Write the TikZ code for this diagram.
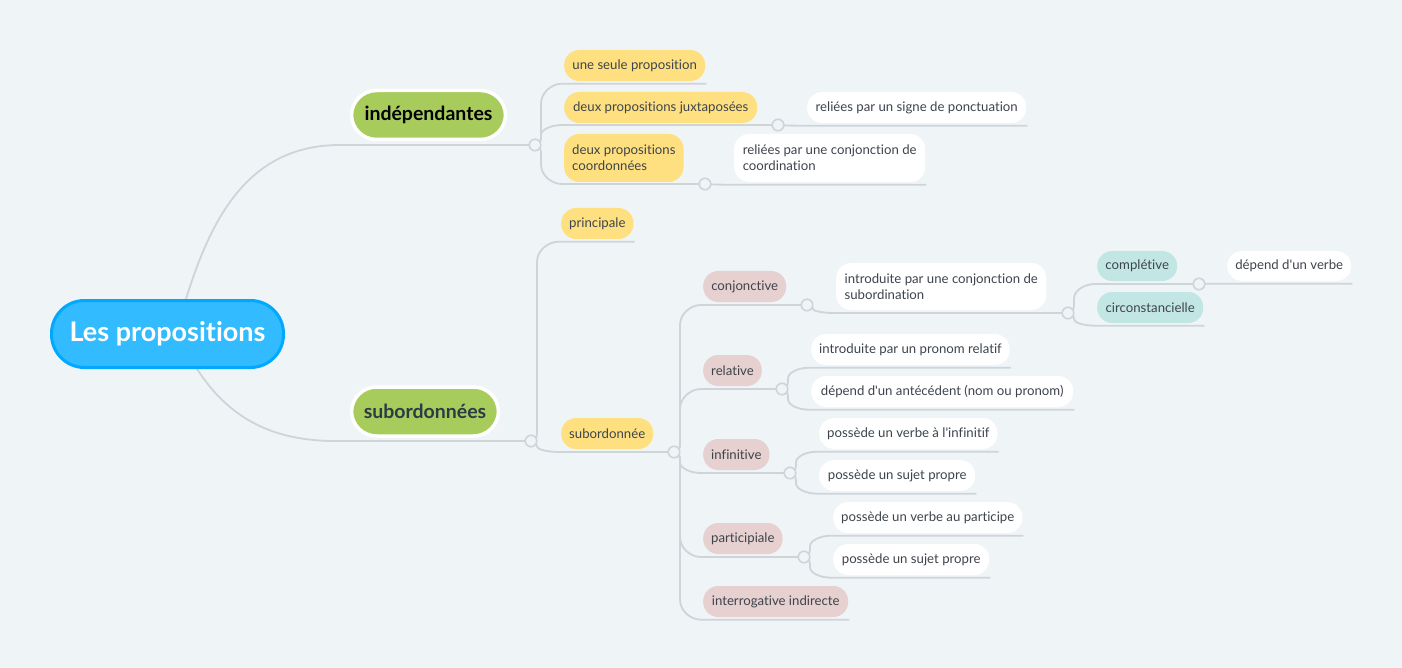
\documentclass[tikz,border=0pt]{standalone}
\usepackage{fontspec}
\setmainfont{Lato}[Ligatures={NoCommon}]
\usetikzlibrary{calc,backgrounds}
\definecolor{bg}{RGB}{239,244,247}
\definecolor{rootfill}{RGB}{51,187,255}
\definecolor{rootline}{RGB}{0,168,255}
\definecolor{grn}{RGB}{168,204,92}
\definecolor{yel}{RGB}{255,224,128}
\definecolor{pnk}{RGB}{230,208,208}
\definecolor{tea}{RGB}{194,230,228}
\definecolor{lne}{RGB}{206,212,216}
\definecolor{txt}{RGB}{62,68,76}
\definecolor{subtxt}{RGB}{45,58,70}
\newcommand\apo{\textquotesingle}
\tikzset{
  conn/.style={draw=lne, line width=1.8pt},
  mk/.style={circle, draw=lne, fill=bg, line width=1.6pt, minimum size=11.5pt, inner sep=0pt},
  leaf/.style={rounded corners=15pt, inner xsep=8pt, inner ysep=0pt, minimum height=31pt,
    font=\fontsize{13.2}{16}\selectfont, text=txt, anchor=west, align=left},
  yelbox/.style={leaf, fill=yel},
  whitebox/.style={leaf, fill=white},
  pinkbox/.style={leaf, fill=pnk},
  tealbox/.style={leaf, fill=tea},
  branchbox/.style={rounded corners=25pt, fill=grn, draw=white, line width=3.5pt,
    font=\fontsize{19.5}{22}\bfseries, inner sep=0pt, minimum height=49pt},
  rootbox/.style={rounded corners=33pt, fill=rootfill, draw=rootline, line width=3pt,
    font=\fontsize{27}{30}\bfseries, text=white, inner sep=0pt, minimum height=67pt, minimum width=232pt}
}
\newcommand\lnk[3]{%
  \draw[conn] let \p1=(#1.center), \p2=(#3), \p3=(#2.south west),
    \n1={\y2-\y1}, \n2={abs(\n1)}, \n3={(\n1>0)?1:-1},
    \n4={min(\n2/2,8pt)}, \n5={min(\n2/2,20pt)} in
    (\p1) .. controls ({\x1+4pt},\y1) and ({\x1+6pt},{\y1+(\n3)*0.45*\n4}) ..
    ({\x1+6pt},{\y1+(\n3)*\n4}) -- ({\x1+6pt},{\y2-(\n3)*\n5})
    .. controls ({\x1+6pt},{\y2-(\n3)*0.45*\n5}) and ({\x1+6pt+0.45*(\x3-\x1-6pt)},\y2) ..
    ({\x3-2pt},\y2) -- (\p2);}
\begin{document}
\begin{tikzpicture}[x=1pt,y=-1pt]
\useasboundingbox (0,0) rectangle (1402,668);
% root and branches
\node[rootbox] (root) at (167.5,334) {Les propositions};
\node[branchbox, minimum width=154pt, text=black] (ind) at (428.5,115) {indépendantes};
\node[branchbox, minimum width=147pt, text=subtxt] (sub) at (425,411.5) {subordonnées};
% yellow
\node[yelbox, minimum width=141pt] (n1) at (564,65.5) {une seule proposition};
\node[yelbox, minimum width=193pt] (n2) at (564,107.5) {deux propositions juxtaposées};
\node[yelbox, minimum width=119pt, minimum height=48pt] (n3) at (564,158) {deux propositions\\coordonnées};
\node[yelbox, minimum width=72pt] (n4) at (561,223.5) {principale};
\node[yelbox, minimum width=92pt] (n5) at (561,433.5) {subordonnée};
% white
\node[whitebox, minimum width=219pt] (w1) at (807,107.5) {reliées par un signe de ponctuation};
\node[whitebox, minimum width=191pt, minimum height=48pt] (w2) at (734,158) {reliées par une conjonction de\\coordination};
\node[whitebox, minimum width=210pt, minimum height=47pt] (w3) at (836,286.5) {introduite par une conjonction de\\subordination};
\node[whitebox, minimum width=124pt, minimum height=30pt] (w4) at (1227,266) {dépend d\apo un verbe};
\node[whitebox, minimum width=197pt] (w5) at (811,349.5) {introduite par un pronom relatif};
\node[whitebox, minimum width=262pt] (w6) at (811,391.5) {dépend d\apo un antécédent (nom ou pronom)};
\node[whitebox, minimum width=178pt] (w7) at (819,433.5) {possède un verbe à l\apo infinitif};
\node[whitebox, minimum width=156pt] (w8) at (819,475.5) {possède un sujet propre};
\node[whitebox, minimum width=189pt] (w9) at (833,517.5) {possède un verbe au participe};
\node[whitebox, minimum width=156pt] (w10) at (833,559.5) {possède un sujet propre};
% pink
\node[pinkbox, minimum width=83pt] (p1) at (703,286.5) {conjonctive};
\node[pinkbox, minimum width=57pt] (p2) at (703,370.5) {relative};
\node[pinkbox, minimum width=65pt] (p3) at (703,454.5) {infinitive};
\node[pinkbox, minimum width=79pt] (p4) at (703,538.5) {participiale};
\node[pinkbox, minimum width=145pt] (p5) at (703,601.5) {interrogative indirecte};
% teal
\node[tealbox, minimum width=80pt, minimum height=30pt] (t1) at (1097,266) {complétive};
\node[tealbox, minimum width=106pt] (t2) at (1097,307.5) {circonstancielle};
% markers
\node[mk] (mi) at (535,145) {};
\node[mk] (ms) at (531,441) {};
\node[mk] (mj) at (778,125) {};
\node[mk] (mc) at (705,184) {};
\node[mk] (msub) at (674,452) {};
\node[mk] (mconj) at (807,305) {};
\node[mk] (mintro) at (1068,313) {};
\node[mk] (mcomp) at (1199,284) {};
\node[mk] (mrel) at (782,389) {};
\node[mk] (minf) at (790,473) {};
\node[mk] (mpart) at (804,557) {};
% underline ends of leaves
\foreach \n in {n1,n4,w1,w2,w4,w5,w6,w7,w8,w9,w10,p5,t2}{
  \coordinate (u-\n) at ($(\n.south east)+(1,2.5)$);
}
\begin{pgfonlayer}{background}
\fill[bg] (0,0) rectangle (1402,668);
\draw[conn] ($(root.north)+(18.5,0)$) .. controls (212,215) and (250,145) .. (340,145) -- (mi.center);
\draw[conn] ($(root.south)+(29.5,0)$) .. controls (225,412) and (265,441) .. (335,441) -- (ms.center);
\lnk{mi}{n1}{u-n1}
\lnk{mi}{n2}{mj.center}
\lnk{mi}{n3}{mc.center}
\lnk{mj}{w1}{u-w1}
\lnk{mc}{w2}{u-w2}
\lnk{ms}{n4}{u-n4}
\lnk{ms}{n5}{msub.center}
\lnk{msub}{p1}{mconj.center}
\lnk{msub}{p2}{mrel.center}
\lnk{msub}{p3}{minf.center}
\lnk{msub}{p4}{mpart.center}
\lnk{msub}{p5}{u-p5}
\lnk{mconj}{w3}{mintro.center}
\lnk{mintro}{t1}{mcomp.center}
\lnk{mintro}{t2}{u-t2}
\lnk{mcomp}{w4}{u-w4}
\lnk{mrel}{w5}{u-w5}
\lnk{mrel}{w6}{u-w6}
\lnk{minf}{w7}{u-w7}
\lnk{minf}{w8}{u-w8}
\lnk{mpart}{w9}{u-w9}
\lnk{mpart}{w10}{u-w10}
\end{pgfonlayer}
\end{tikzpicture}
\end{document}
